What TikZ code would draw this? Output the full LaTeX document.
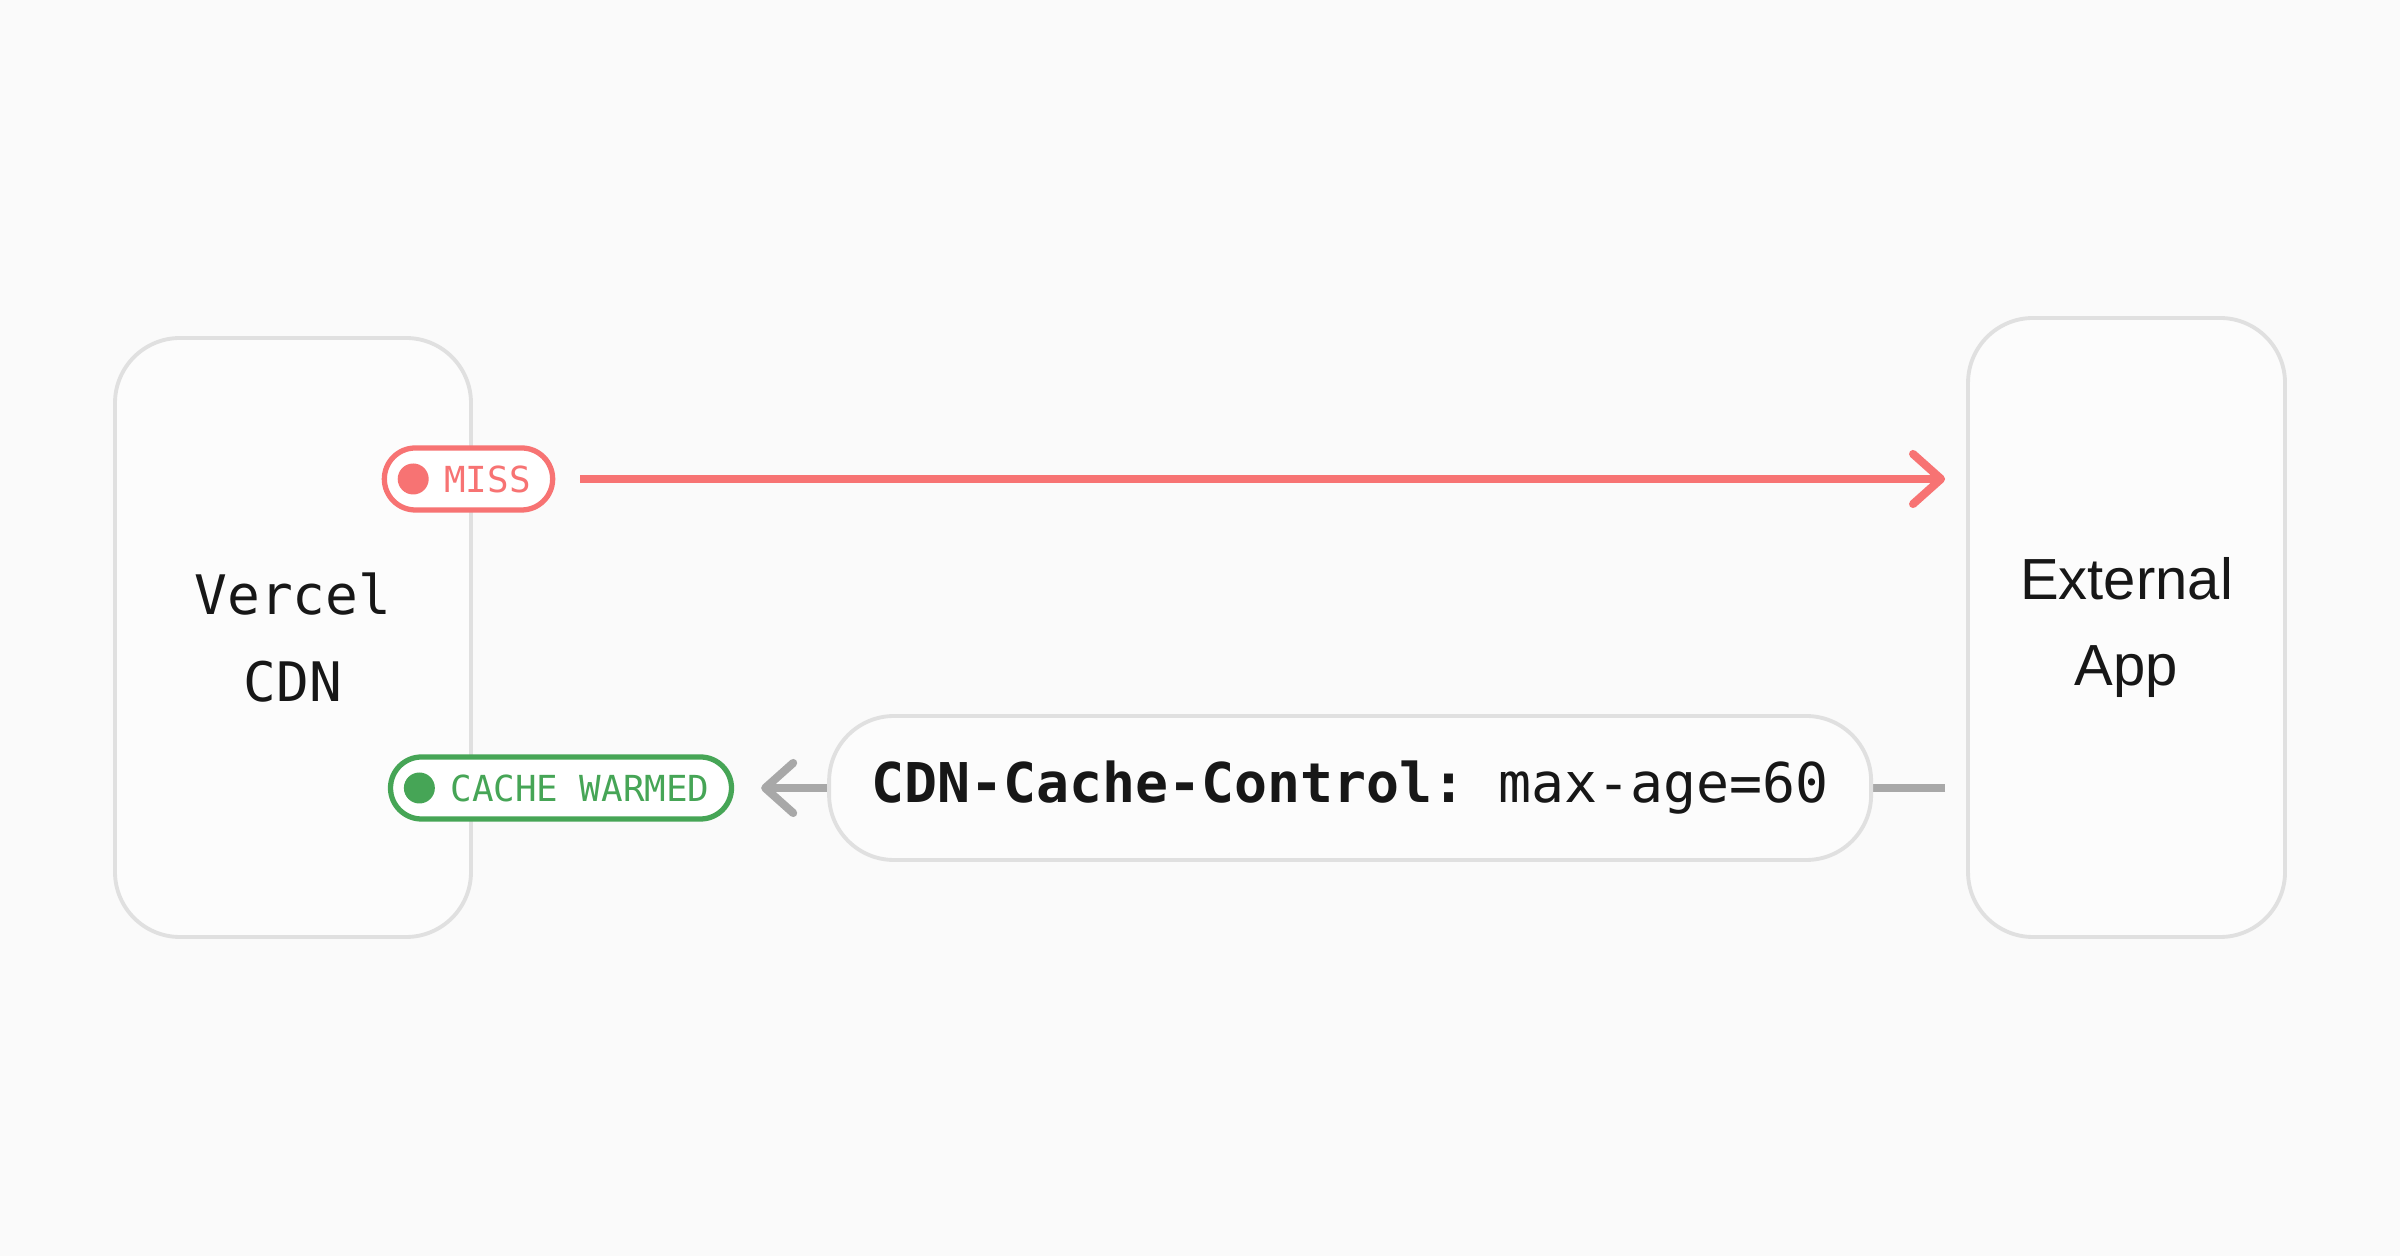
\documentclass[tikz,border=0pt]{standalone}
\usepackage{fontspec}
\setmainfont{Liberation Sans}
\setmonofont{DejaVu Sans Mono}
\usetikzlibrary{arrows.meta}

\definecolor{bgcol}{HTML}{FAFAFA}
\definecolor{edgecol}{HTML}{E0E0E0}
\definecolor{misscol}{HTML}{F77373}
\definecolor{warmcol}{HTML}{46A556}
\definecolor{wirecol}{HTML}{A8A8A8}
\definecolor{inkcol}{HTML}{171717}

\begin{document}
\begin{tikzpicture}[>={Straight Barb[length=0.28cm,width=0.5cm,round]},
	server/.style={draw=edgecol,line width=1.1pt,fill=white!50!bgcol,rounded corners=0.65cm,
		text=inkcol,align=center,inner sep=0pt},
	badge/.style={draw=#1,line width=1.5pt,fill=white,text=#1,rounded corners=0.31cm,
		minimum height=0.62cm,inner xsep=0.22cm,inner ysep=0pt,font=\ttfamily\fontsize{10.2}{12}\selectfont},
	header/.style={draw=edgecol,line width=1.1pt,fill=white!50!bgcol,rounded corners=0.65cm,
		minimum width=10.42cm,minimum height=1.44cm,text=inkcol,font=\ttfamily\fontsize{15.6}{18}\selectfont},
	wire/.style={line width=2.3pt}]

\useasboundingbox (0,0) rectangle (24,12.56);
\fill[color=bgcol] (0,0)--(24,0)--(24,12.56)--(0,12.56)--cycle;

\node[server,minimum width=3.56cm,minimum height=5.99cm,font=\ttfamily\fontsize{15.5}{24.5}\selectfont]
	(cdn) at (2.93,6.185) {Vercel\\CDN};
\node[server,minimum width=3.17cm,minimum height=6.19cm,font=\fontsize{16.5}{24.5}\selectfont]
	(app) at (21.265,6.285) {\raisebox{-0.06cm}{External}\\\raisebox{-0.06cm}{App}};

\node[badge=misscol] (miss) at (4.685,7.77) {\hspace*{0.38cm}MISS};
\fill[color=misscol] ([xshift=0.315cm]miss.west) circle (0.155);

\node[badge=warmcol] (warm) at (5.61,4.68) {\hspace*{0.38cm}CACHE WARMED};
\fill[color=warmcol] ([xshift=0.315cm]warm.west) circle (0.155);

\draw[->,wire,color=misscol,shorten <=0.25cm,shorten >=0.21cm] (miss) -- (miss -| app.west);

\draw[->,wire,color=wirecol,shorten <=0.21cm,shorten >=0.27cm] (warm -| app.west) -- (warm)
	node[header,pos=0.5] (ctrl) {\textbf{CDN-Cache-Control:} max-age=60};

\end{tikzpicture}
\end{document}
